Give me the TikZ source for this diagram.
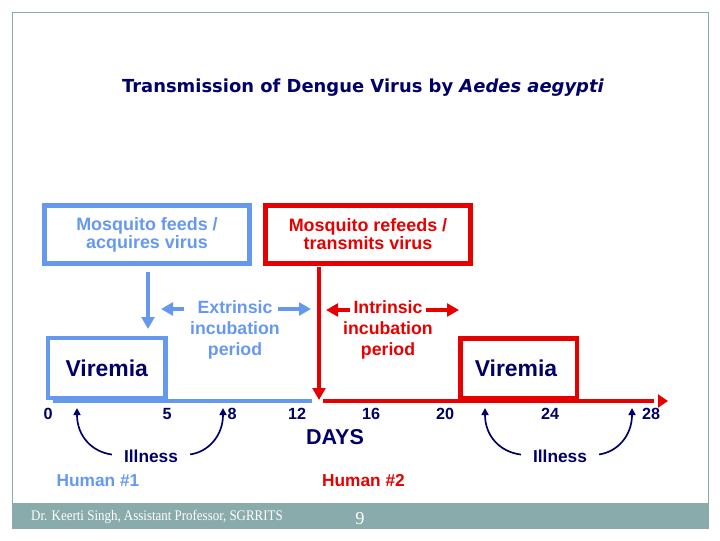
\documentclass[tikz,border=0pt]{standalone}
\usepackage{fontspec}
\setmainfont{Liberation Sans}
\newfontfamily\titlefont{DejaVu Sans}
\newfontfamily\footfont{Liberation Serif}
\usetikzlibrary{arrows.meta}
\definecolor{feedblue}{HTML}{6699EE}
\definecolor{refeedred}{HTML}{E60000}
\definecolor{darknavy}{HTML}{000066}
\definecolor{slidegreen}{HTML}{8AABAB}
\tikzset{
	feedtext/.style={font=\fontsize{12.75}{12.75}\selectfont\bfseries, align=center, inner sep=0pt},
	periodtext/.style={font=\fontsize{12.6}{15}\selectfont\bfseries, align=center, inner sep=0pt},
	labeltext/.style={font=\fontsize{12.3}{14}\selectfont\bfseries, inner sep=0pt},
	daytext/.style={font=\fontsize{11.5}{13}\selectfont\bfseries, text=darknavy, inner sep=0pt},
	viremiabox/.style={draw, line width=3pt, fill=white, minimum height=1.5cm, text=darknavy, font=\fontsize{16.3}{18}\selectfont\bfseries},
	feedbox/.style={draw, line width=3.2pt, minimum width=5.125cm, minimum height=1.45cm},
	thickarrow/.style={line width=2.2pt, -{Triangle[length=0.3cm, width=0.32cm]}},
	illnessarrow/.style={line width=1.2pt, darknavy, -{Triangle[length=0.18cm, width=0.18cm]}},
}
\begin{document}
\begin{tikzpicture}[x=0.025cm, y=-0.025cm]
	\useasboundingbox (0,0) rectangle (720,540);

	% Marco y pie de la diapositiva
	\draw[slidegreen, line width=0.6pt] (12,12) rectangle (708,528);
	\fill[slidegreen] (12,503) rectangle (708,528);
	\node[anchor=west, text=white, xscale=0.885, font=\fontsize{10.4}{12}\footfont, inner sep=0pt] (author) at (31,516.5) {Dr. Keerti Singh, Assistant Professor, SGRRITS};
	\node[text=white, font=\fontsize{13}{14}\footfont, inner sep=0pt] (pagenum) at (360,519) {9};

	% Titulo
	\node[text=darknavy, font=\fontsize{12.75}{14}\titlefont\bfseries, inner sep=0pt] (title) at (363,88) {Transmission of Dengue Virus by \textit{Aedes aegypti}};

	% Ejes
	\coordinate (bluestart) at (53,401);
	\coordinate (blueend) at (311.5,401);
	\coordinate (redstart) at (323,401);
	\coordinate (redline) at (654,401);
	\coordinate (redend) at (668,401);
	\draw[feedblue, line width=2.6pt] (bluestart) -- (blueend);
	\draw[refeedred, line width=2.6pt] (redstart) -- (redline);
	\draw[refeedred, line width=2.6pt, shorten <=0.1cm, -{Triangle[length=0.25cm, width=0.32cm]}] (redline) -- (redend);

	% Cajas
	\node[feedbox, feedblue, feedtext] (feed) at (147,234.5) {Mosquito feeds /\\acquires virus};
	\node[feedbox, refeedred, feedtext] (refeed) at (368,234.5) {Mosquito refeeds /\\transmits virus};
	\node[viremiabox, draw=feedblue, minimum width=2.94cm] (viremiaone) at (106.75,368) {Viremia};
	\node[viremiabox, draw=refeedred, minimum width=2.91cm] (viremiatwo) at (518.75,368.5) {Viremia\hspace*{0.14cm}};

	% Flechas desde las cajas
	\coordinate (feeddown) at (148,329);
	\coordinate (refeeddown) at (319,400);
	\draw[thickarrow, feedblue, shorten <=0.16cm] (feed.south -| feeddown) -- (feeddown);
	\draw[thickarrow, refeedred, shorten <=0.04cm] (refeed.south -| refeeddown) -- (refeeddown);

	% Periodo extrinseco
	\node[periodtext, text=feedblue] (extrinsic) at (235,307) {Extrinsic};
	\node[periodtext, text=feedblue] (extrinc) at (235,340) {incubation\\period};
	\coordinate (extrleft) at (161,309);
	\coordinate (extrright) at (311,309);
	\draw[thickarrow, feedblue, shorten <=0.32cm] (extrinsic.west |- extrleft) -- (extrleft);
	\draw[thickarrow, feedblue, shorten <=0.12cm] (extrinsic.east |- extrright) -- (extrright);

	% Periodo intrinseco
	\node[periodtext, text=refeedred] (intrinsic) at (388,307) {Intrinsic};
	\node[periodtext, text=refeedred] (intrinc) at (388,340) {incubation\\period};
	\coordinate (intrleft) at (326,310);
	\coordinate (intrright) at (459,310);
	\draw[thickarrow, refeedred, shorten <=0.08cm] (intrinsic.west |- intrleft) -- (intrleft);
	\draw[thickarrow, refeedred, shorten <=0.08cm] (intrinsic.east |- intrright) -- (intrright);

	% Dias
	\node[daytext] (day0) at (48,414) {0};
	\node[daytext] (day5) at (167,414) {5};
	\node[daytext] (day8) at (232,414) {8};
	\node[daytext] (day12) at (297,414) {12};
	\node[daytext] (day16) at (371,414) {16};
	\node[daytext] (day20) at (445,414) {20};
	\node[daytext] (day24) at (550,414) {24};
	\node[daytext] (day28) at (651,414) {28};
	\node[text=darknavy, font=\fontsize{15.3}{17}\selectfont\bfseries, inner sep=0pt] (days) at (335,437) {DAYS};

	% Enfermedad, humano 1
	\node[labeltext, text=darknavy] (illnessone) at (151,456) {Illness};
	\coordinate (onestart) at (77,408);
	\coordinate (oneend) at (223,408);
	\draw[illnessarrow, shorten <=0.3cm] (illnessone.west) .. controls (92,452) and (77,436) .. (onestart);
	\draw[illnessarrow, shorten <=0.3cm] (illnessone.east) .. controls (208,452) and (223,436) .. (oneend);
	\node[labeltext, text=feedblue] (humanone) at (98,480.5) {Human \#1};

	% Enfermedad, humano 2
	\node[labeltext, text=darknavy] (illnesstwo) at (560,456) {Illness};
	\coordinate (twostart) at (485,408);
	\coordinate (twoend) at (632,408);
	\draw[illnessarrow, shorten <=0.3cm] (illnesstwo.west) .. controls (500,452) and (485,436) .. (twostart);
	\draw[illnessarrow, shorten <=0.3cm] (illnesstwo.east) .. controls (617,452) and (632,436) .. (twoend);
	\node[labeltext, text=refeedred] (humantwo) at (363.5,480.5) {Human \#2};
\end{tikzpicture}
\end{document}
